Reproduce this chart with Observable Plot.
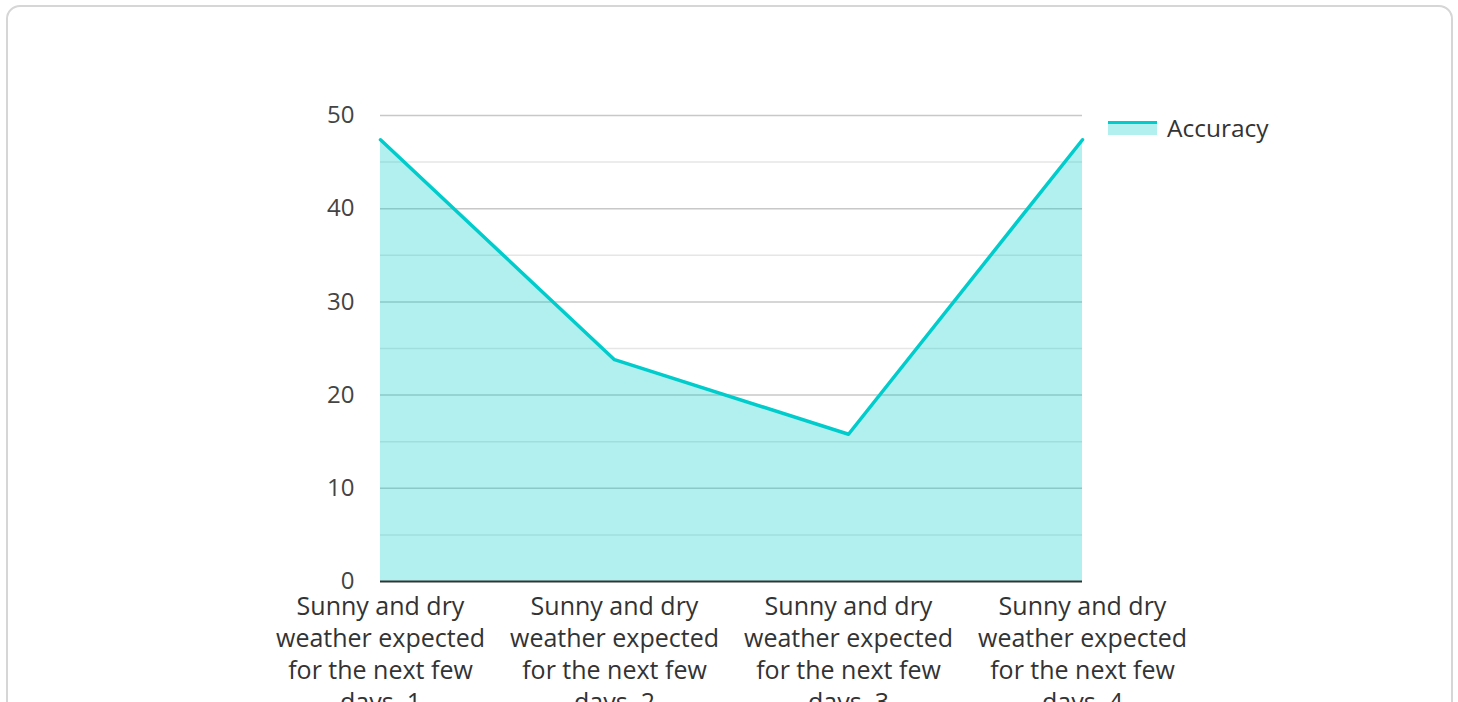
<!DOCTYPE html>
<html>
<head>
<meta charset="utf-8">
<script src="https://cdn.jsdelivr.net/npm/d3@7"></script>
<script src="https://cdn.jsdelivr.net/npm/@observablehq/plot@0.6"></script>
<style>
  html, body { margin: 0; padding: 0; background: #fff; overflow: hidden; }
  body { width: 1458px; height: 702px; position: relative; font-family: "Open Sans", sans-serif; }
  #card { position: absolute; left: 6px; top: 5px; width: 1447px; height: 760px; border: 2px solid #d6d6d6; border-radius: 14px; box-sizing: border-box; }
  #chart { position: absolute; left: 0; top: 0; }
  #legend { position: absolute; left: 1108px; top: 111px; display: flex; align-items: center; font-size: 24.5px; color: #333; }
  #legend .sw { width: 49px; height: 14px; position: relative; margin-right: 10px; background: rgba(0,204,204,0.3); }
  #legend .sw::before { content: ""; position: absolute; left: 0; top: 0; width: 49px; height: 3px; background: #00cccc; }
</style>
</head>
<body>
<div id="card"></div>
<div id="chart"></div>
<div id="legend"><div class="sw"></div><span>Accuracy</span></div>
<script>
const categories = [
  "Sunny and dry weather expected for the next few days, 1",
  "Sunny and dry weather expected for the next few days, 2",
  "Sunny and dry weather expected for the next few days, 3",
  "Sunny and dry weather expected for the next few days, 4"
];
const accuracy = [47.4, 23.8, 15.8, 47.4];
const majorTicks = [0, 10, 20, 30, 40, 50];
const minorTicks = [5, 15, 25, 35, 45];

const data = categories.map((c, i) => ({ category: c, value: accuracy[i] }));
const wrap = s => s.replace("Sunny and dry ", "Sunny and dry\n").replace("weather expected ", "weather expected\n").replace("next few ", "next few\n");

const chart = Plot.plot({
  width: 1458,
  height: 702,
  marginLeft: 380,
  marginRight: 376,
  marginTop: 115,
  marginBottom: 121,
  style: { fontFamily: "Open Sans, sans-serif", fontSize: "24px", color: "#444", background: "transparent" },
  x: { type: "point", domain: categories, padding: 0 },
  y: { domain: [0, 50] },
  marks: [
    Plot.ruleY(minorTicks, { stroke: "#e6e6e6", strokeWidth: 1.5 }),
    Plot.ruleY(majorTicks.filter(d => d > 0), { stroke: "#c8c8c8", strokeWidth: 1.5 }),
    Plot.areaY(data, { x: "category", y: "value", fill: "#00cccc", fillOpacity: 0.3 }),
    Plot.lineY(data, { x: "category", y: "value", stroke: "#00cccc", strokeWidth: 3.5 }),
    Plot.ruleY([0], { stroke: "#333", strokeWidth: 2 }),
    Plot.axisY({ ticks: majorTicks, tickSize: 0, tickPadding: 26, label: null, fill: "#444", fontSize: 24 }),
    Plot.axisX({ tickSize: 0, tickPadding: 11, label: null, tickFormat: wrap, lineHeight: 1.28, fill: "#333", fontSize: 25, textOverflow: null })
  ]
});
document.getElementById("chart").appendChild(chart);
</script>
</body>
</html>
